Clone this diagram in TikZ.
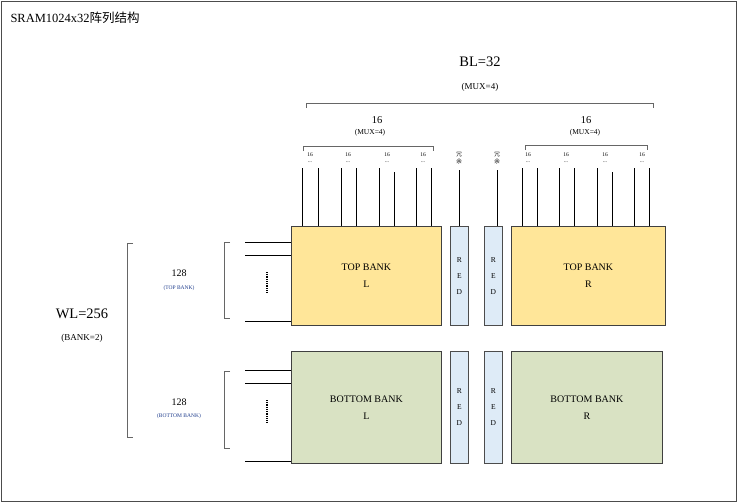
\documentclass[tikz,border=0pt]{standalone}
\usepackage{fontspec}
\setmainfont{Liberation Serif}
\newfontfamily\cjk{Noto Sans CJK SC}
\begin{document}
\begin{tikzpicture}[x=1pt,y=-1pt,
  bank/.style={draw=black!75,line width=0.8pt,align=center,anchor=north west,font=\fontsize{10}{17}\selectfont},
  red/.style={draw=black!70,fill={rgb,255:red,222;green,235;blue,247},line width=0.7pt,minimum width=18,anchor=north west,align=center,font=\fontsize{7.5}{16}\selectfont},
  brk/.style={draw=black!60,line width=0.9pt},
  ln/.style={draw=black,line width=0.6pt},
  tiny/.style={font=\fontsize{5.5}{6}\selectfont,inner sep=0pt}]
\useasboundingbox (0,0) rectangle (738,503);
\draw[black!70] (1,1) rectangle (736,501);
\node[anchor=west,font=\fontsize{12.5}{14}\selectfont] (title) at (7,18) {SRAM1024x32{\cjk 阵列结构}};
% banks
\node[bank,fill={rgb,255:red,255;green,230;blue,153},minimum width=150,minimum height=99] (tl) at (291,226) {TOP BANK\\L};
\node[bank,fill={rgb,255:red,255;green,230;blue,153},minimum width=154,minimum height=99] (tr) at (511,226) {TOP BANK\\R};
\node[bank,fill={rgb,255:red,217;green,226;blue,195},minimum width=150,minimum height=112] (bl) at (291,351) {BOTTOM BANK\\L};
\node[bank,fill={rgb,255:red,217;green,226;blue,195},minimum width=151,minimum height=112] (br) at (511,351) {BOTTOM BANK\\R};
\foreach \x/\n in {450/a,484/b}{
  \node[red,minimum height=99] (rt\n) at (\x,226) {R\\E\\D};
  \node[red,minimum height=112] (rb\n) at (\x,351) {R\\E\\D};
}
% bit lines
\foreach \x/\t in {302/168,318/168,341/168,356/168,379/168,394/172,416/168,431/168,522/168,537/168,559/168,574/168,597/168,612/172,634/168,649/168}{
  \coordinate (c\x) at (\x,\t);
  \draw[ln] (c\x) -- (\x,226);
}
\foreach \x in {310,348,387,423,528,566,605,642}{
  \node[tiny] (n\x) at (\x,155) {16};
  \node[tiny] (d\x) at (\x,162) {...};
}
\foreach \x/\n in {459/a,497/b}{
  \coordinate (rc\n) at (\x,170);
  \draw[ln] (rc\n) -- (rc\n |- rt\n.north);
  \node[align=center,inner sep=0pt,font=\cjk\fontsize{5.5}{7}\selectfont] (ry\n) at (\x,158) {冗\\余};
}
% braces
\draw[brk] (303,151) -- (303,146) -- (433,146) -- (433,151);
\draw[brk] (525,150) -- (525,145) -- (647,145) -- (647,150);
\draw[brk] (306,108) -- (306,103) -- (653,103) -- (653,108);
\node[font=\fontsize{10.5}{12}\selectfont] (m16a) at (377,120) {16};
\node[font=\fontsize{7.5}{8}\selectfont] (mxa) at (370,133) {(MUX=4)};
\node[font=\fontsize{10.5}{12}\selectfont] (m16b) at (586,120) {16};
\node[font=\fontsize{7.5}{8}\selectfont] (mxb) at (585,133) {(MUX=4)};
\node[font=\fontsize{14.5}{16}\selectfont] (bl32) at (480,62) {BL=32};
\node[font=\fontsize{9}{10}\selectfont] (blm) at (480,87) {(MUX=4)};
% left
\draw[brk] (133,243) -- (127,243) -- (127,437) -- (133,437);
\node[font=\fontsize{14.5}{16}\selectfont] (wl) at (82,314) {WL=256};
\node[font=\fontsize{9}{10}\selectfont] (wlb) at (82,338) {(BANK=2)};
\draw[brk] (230,242) -- (224,242) -- (224,318) -- (230,318);
\draw[brk] (230,371) -- (224,371) -- (224,448) -- (230,448);
\node[font=\fontsize{10}{12}\selectfont] (t128) at (179,273) {128};
\node[font=\fontsize{5.5}{6}\selectfont,text={rgb,255:red,30;green,60;blue,140}] (tb) at (179,288) {(TOP BANK)};
\node[font=\fontsize{10}{12}\selectfont] (b128) at (179,402) {128};
\node[font=\fontsize{5.5}{6}\selectfont,text={rgb,255:red,30;green,60;blue,140}] (bb) at (179,416) {(BOTTOM BANK)};
\foreach \y in {242,255,321}{\coordinate (w\y) at (245,\y); \draw[ln] (w\y) -- (w\y -| tl.west);}
\foreach \y in {370,383,461}{\coordinate (w\y) at (245,\y); \draw[ln] (w\y) -- (w\y -| bl.west);}
\draw[line width=1.2pt,dash pattern=on 1pt off 0.8pt] (267,272) -- (267,293);
\draw[line width=1.2pt,dash pattern=on 1pt off 0.8pt] (267,400) -- (267,422);
\end{tikzpicture}
\end{document}
